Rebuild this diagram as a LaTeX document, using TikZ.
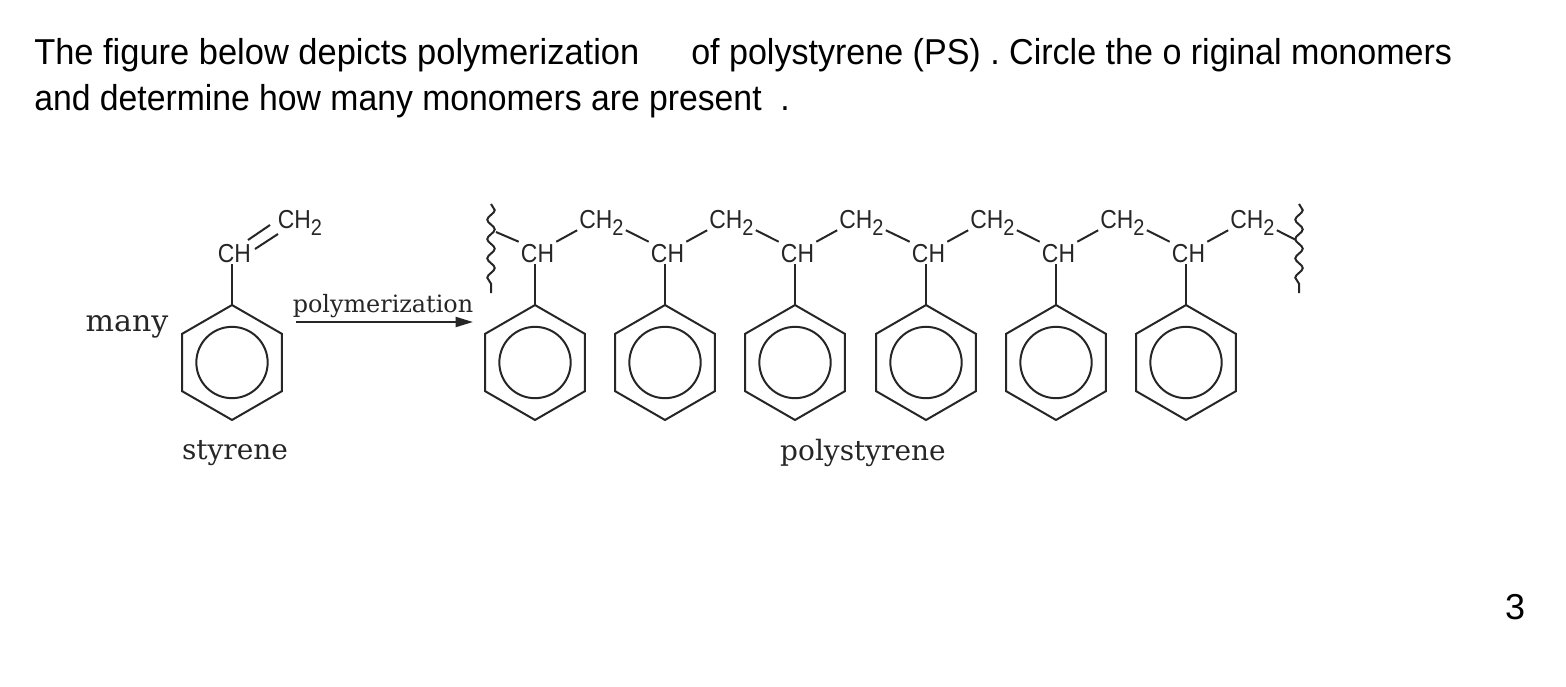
\documentclass[tikz,border=0pt]{standalone}
\usepackage{fontspec}
\usetikzlibrary{shapes.geometric,decorations.pathmorphing,arrows.meta}
\setmainfont{Liberation Sans}
\newfontfamily\headfonta[FakeStretch=0.957]{Liberation Sans}
\newfontfamily\headfontb[FakeStretch=0.946]{Liberation Sans}
\newfontfamily\headfontc[FakeStretch=0.937]{Liberation Sans}
\newfontfamily\chemfont[FakeStretch=0.88]{Liberation Sans}
\newfontfamily\capfont{DejaVu Serif}
\newcommand{\CHtwo}{CH\raisebox{-0.28em}{\fontsize{17}{17}\selectfont 2}}
\tikzset{
  x=0.75pt,y=-0.75pt,
  bond/.style={line width=1.5pt,black!85},
  benzene/.style={draw=black!85,line width=1.5pt,regular polygon,regular polygon sides=6,shape border rotate=30,minimum size=86.2pt,inner sep=0pt,outer sep=0pt},
  innerring/.style={draw=black!85,line width=1.5pt,circle,minimum size=53.5pt,inner sep=0pt,outer sep=0pt},
  chlabel/.style={font=\chemfont\fontsize{19.5}{19.5}\selectfont,inner sep=1.5pt,text height=13.5pt,text depth=0pt,text=black!85},
  wave/.style={bond,decorate,decoration={snake,amplitude=2.8pt,segment length=14.5pt}},
  headline/.style={anchor=base west,inner sep=0pt},
  caption/.style={font=\capfont\fontsize{21}{21}\selectfont,inner sep=0pt,text=black!85},
}
\begin{document}
\begin{tikzpicture}
\useasboundingbox (0,0) rectangle (1566,686);
\node[headline,font=\headfonta\fontsize{27}{27}\selectfont] (t1) at (34,64) {The figure below depicts polymerization};
\node[headline,font=\headfontb\fontsize{27}{27}\selectfont] (t2) at (691,64) {of polystyrene (PS) . Circle the o riginal monomers};
\node[headline,font=\headfontc\fontsize{27}{27}\selectfont] (t3) at (34,110) {and determine how many monomers are present};
\node[headline,font=\headfontc\fontsize{27}{27}\selectfont] (t4) at (780,110) {.};
\node[font=\fontsize{27}{27}\selectfont,inner sep=0pt] (pg) at (1515,607) {3};
% styrene
\node[benzene] (shex) at (232,362.5) {};
\node[innerring] (sring) at (232,362.5) {};
\node[chlabel] (sch) at (234.5,253) {CH};
\node[chlabel] (sct) at (300,219) {\CHtwo};
\draw[bond] (shex.corner 1) -- (shex.corner 1 |- sch.south);
\coordinate (da1) at (248,240);
\coordinate (db1) at (270,225);
\coordinate (da2) at (255,249);
\coordinate (db2) at (278,234);
\draw[bond] (da1) -- (db1);
\draw[bond] (da2) -- (db2);
\node[caption,font=\capfont\fontsize{22.5}{22.5}\selectfont] (many) at (127,327) {many};
\node[caption] (styr) at (235,453) {styrene};
\node[caption] (poly) at (863,453) {polystyrene};
\node[caption,font=\capfont\fontsize{17.9}{17.9}\selectfont] (plab) at (383,306.5) {polymerization};
\coordinate (aS) at (296,322);
\coordinate (aE) at (473,322);
\draw[bond,-{Triangle[length=13pt,width=7.5pt]}] (aS) -- (aE);
% polymer chain
\coordinate (wl1) at (491,204);
\coordinate (wl2) at (491,293);
\coordinate (wl) at (496,232);
\coordinate (wr1) at (1299,204);
\coordinate (wr2) at (1299,293);
\coordinate (wr) at (1296,240);
\draw[wave] (wl1) -- (wl2);
\draw[wave] (wr1) -- (wr2);
\foreach \i/\cx in {1/535,2/665,3/795,4/926,5/1056,6/1186}{
  \node[benzene] (hex\i) at (\cx,362.5) {};
  \node[innerring] (ring\i) at (\cx,362.5) {};
  \node[chlabel] (ch\i) at (\cx+2.5,253) {CH};
  \node[chlabel] (ct\i) at (\cx+66.5,219) {\CHtwo};
  \draw[bond] (hex\i.corner 1) -- (hex\i.corner 1 |- ch\i.south);
  \draw[bond] (ch\i.north east) -- (ct\i.south west);
}
\draw[bond] (wl) -- (ch1.north west);
\foreach \i/\j in {1/2,2/3,3/4,4/5,5/6}{
  \draw[bond] (ct\i.south east) -- (ch\j.north west);
}
\draw[bond] (ct6.south east) -- (wr);
\end{tikzpicture}
\end{document}
